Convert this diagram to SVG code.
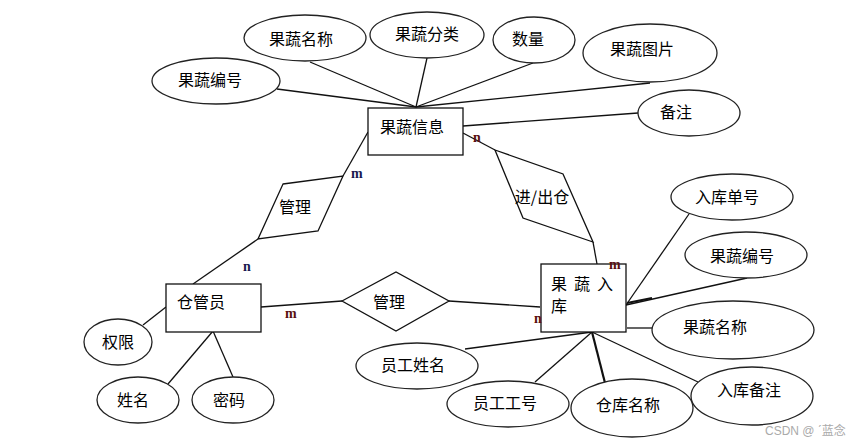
<svg xmlns="http://www.w3.org/2000/svg" width="867" height="446" viewBox="0 0 867 446">
<style>
.e{fill:#fff;stroke:#222;stroke-width:1.3}
.r{fill:#fff;stroke:#111;stroke-width:1.3}
.t{font-family:"Noto Sans CJK SC","Liberation Sans",sans-serif;font-size:16px;fill:#000;text-anchor:middle}
.tl{font-family:"Noto Sans CJK SC","Liberation Sans",sans-serif;font-size:16px;fill:#000}
.c line,.c polyline{stroke:#111;stroke-width:1.3;fill:none}
.m{font-family:"Liberation Serif",serif;font-size:14px;font-weight:bold}
.nv{fill:#1a1a50}
.mr{fill:#5a1010}
.wm{font-family:"Liberation Sans","Noto Sans CJK SC",sans-serif;font-size:12px;fill:#aaa}
</style>
<rect width="867" height="446" fill="#fff"/>
<g class="c" id="connectors">
<line x1="277" y1="89" x2="416" y2="107"/>
<line x1="310" y1="62" x2="416" y2="107"/>
<line x1="427" y1="58" x2="416" y2="107"/>
<line x1="533" y1="63" x2="416" y2="107"/>
<line x1="650" y1="83" x2="416" y2="107"/>
<line x1="638" y1="113" x2="463" y2="126"/>
<line x1="368" y1="132" x2="343" y2="176"/>
<line x1="258" y1="239" x2="193" y2="284"/>
<line x1="463" y1="133" x2="495" y2="150"/>
<line x1="593" y1="242" x2="597" y2="264"/>
<line x1="261" y1="307" x2="342" y2="301"/>
<line x1="449" y1="301" x2="540" y2="307"/>
<line x1="166" y1="307" x2="143" y2="325"/>
<line x1="213" y1="331" x2="168" y2="384"/>
<line x1="213" y1="331" x2="233" y2="377"/>
<line x1="626" y1="305" x2="689" y2="214"/>
<line x1="626" y1="305" x2="747" y2="278"/>
<line x1="627" y1="303" x2="652" y2="298" style="stroke-width:2"/>
<line x1="627" y1="328" x2="652" y2="328"/>
<line x1="592" y1="332" x2="465" y2="349"/>
<line x1="592" y1="332" x2="535" y2="382"/>
<line x1="592" y1="332" x2="605" y2="383" style="stroke-width:2.2"/>
<line x1="592" y1="332" x2="698" y2="382"/>
</g>
<g id="n-guoshu-xinxi"><rect class="r" x="368" y="108" width="95" height="47"/><text class="tl" x="380" y="133">果蔬信息</text></g>
<g id="a-bianhao1"><ellipse class="e" cx="216" cy="81" rx="64" ry="23"/><text class="t" x="210" y="86">果蔬编号</text></g>
<g id="a-mingcheng1"><ellipse class="e" cx="305" cy="38" rx="61" ry="23"/><text class="t" x="301" y="45">果蔬名称</text></g>
<g id="a-fenlei"><ellipse class="e" cx="427" cy="35" rx="57" ry="23"/><text class="t" x="427" y="40">果蔬分类</text></g>
<g id="a-shuliang"><ellipse class="e" cx="534" cy="40" rx="41" ry="23"/><text class="t" x="528" y="45">数量</text></g>
<g id="a-tupian"><ellipse class="e" cx="650" cy="53" rx="67" ry="29"/><text class="t" x="642" y="55">果蔬图片</text></g>
<g id="a-beizhu"><ellipse class="e" cx="689" cy="113" rx="51" ry="23"/><text class="t" x="676" y="118">备注</text></g>
<g id="r-guanli1"><polygon class="r" points="283,184 343,176 318,231 258,239"/><text class="t" x="295" y="213">管理</text></g>
<g id="r-jinchu"><polygon class="r" points="495,150 563,174 593,242 523,218"/><text class="t" x="542" y="203">进/出仓</text></g>
<g id="n-cangguanyuan"><rect class="r" x="166" y="284" width="95" height="48"/><text class="tl" x="177" y="308">仓管员</text></g>
<g id="r-guanli2"><polygon class="r" points="342,301 396,272 449,301 396,331"/><text class="t" x="389" y="308">管理</text></g>
<g id="n-ruku"><rect class="r" x="541" y="264" width="85" height="68"/><text class="tl" x="551 574 597" y="290">果蔬入</text><text class="tl" x="551" y="312">库</text></g>
<g id="a-quanxian"><ellipse class="e" cx="118" cy="342" rx="34" ry="23"/><text class="t" x="118" y="348">权限</text></g>
<g id="a-xingming"><ellipse class="e" cx="138" cy="400" rx="41" ry="23"/><text class="t" x="133" y="406">姓名</text></g>
<g id="a-mima"><ellipse class="e" cx="233" cy="400" rx="41" ry="23"/><text class="t" x="229" y="406">密码</text></g>
<g id="a-rukudanhao"><ellipse class="e" cx="732" cy="197" rx="61" ry="23"/><text class="t" x="727" y="203">入库单号</text></g>
<g id="a-bianhao2"><ellipse class="e" cx="746" cy="255" rx="61" ry="23"/><text class="t" x="742" y="262">果蔬编号</text></g>
<g id="a-mingcheng2"><ellipse class="e" cx="733" cy="330" rx="81" ry="29"/><text class="t" x="715" y="333">果蔬名称</text></g>
<g id="a-rukubeizhu"><ellipse class="e" cx="752" cy="396" rx="61" ry="29"/><text class="t" x="749" y="396">入库备注</text></g>
<g id="a-cangkumingcheng"><ellipse class="e" cx="632" cy="408" rx="61" ry="29"/><text class="t" x="628" y="411">仓库名称</text></g>
<g id="a-gonghao"><ellipse class="e" cx="508" cy="404" rx="61" ry="23"/><text class="t" x="505" y="409">员工工号</text></g>
<g id="a-yuangongxingming"><ellipse class="e" cx="417" cy="366" rx="61" ry="23"/><text class="t" x="413" y="371">员工姓名</text></g>
<g id="labels">
<text class="m mr" x="473" y="142">n</text>
<text class="m nv" x="351" y="178">m</text>
<text class="m nv" x="243" y="271">n</text>
<text class="m mr" x="285" y="318">m</text>
<text class="m mr" x="609" y="269">m</text>
<text class="m mr" x="534" y="323">n</text>
</g>
<text class="wm" x="765" y="435">CSDN @ ˊ蓝念</text>
</svg>
